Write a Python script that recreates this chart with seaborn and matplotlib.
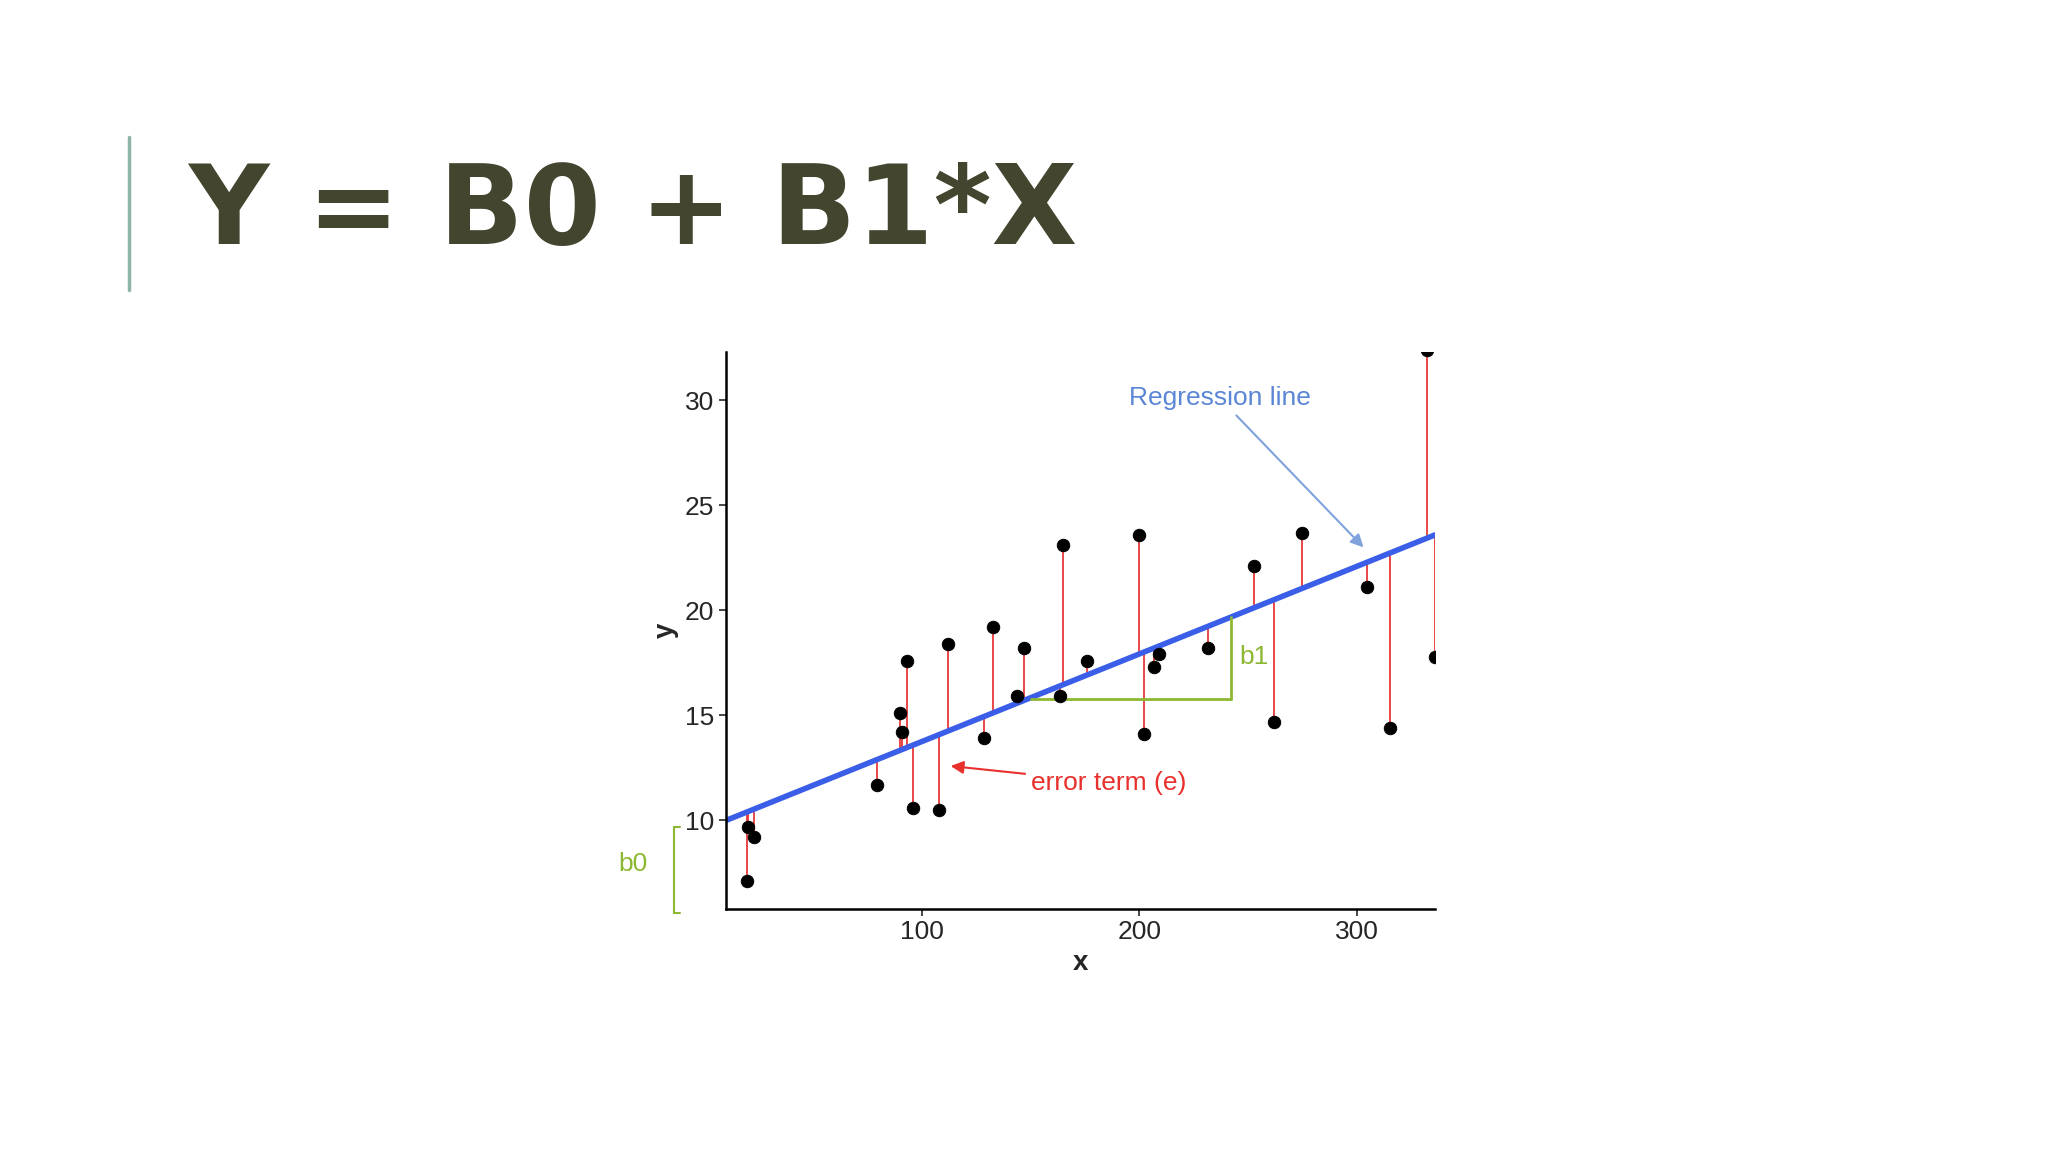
import numpy as np
import pandas as pd
import matplotlib.pyplot as plt
import seaborn as sns

# data
x_vals = [19.6, 20.2, 22.7, 79.5, 89.8, 91.0, 93.4, 95.8, 107.9, 112.0, 128.4, 132.6,
          144.0, 147.0, 163.4, 165.0, 176.0, 199.7, 202.0, 207.0, 209.0, 231.7, 252.8,
          262.0, 275.0, 304.6, 315.5, 332.4, 336.0]
y_vals = [7.1, 9.7, 9.2, 11.7, 15.1, 14.2, 17.6, 10.6, 10.5, 18.4, 13.9, 19.2,
          15.9, 18.2, 15.9, 23.1, 17.6, 23.6, 14.1, 17.3, 17.9, 18.2, 22.1,
          14.7, 23.7, 21.1, 14.4, 32.4, 17.8]
b0 = 9.58
b1 = 0.0417

df = pd.DataFrame({'x': x_vals, 'y': y_vals})
df['fit'] = b0 + b1 * df['x']

sns.set_style('ticks')
plt.rcParams['font.family'] = ['Liberation Sans', 'DejaVu Sans']

fig = plt.figure(figsize=(20.48, 11.52), dpi=100)
ax = fig.add_axes([0.3545, 0.2113, 0.3462, 0.4832])

# residuals
ax.vlines(df['x'], df['y'], df['fit'], color='#e8383a', lw=1.3, zorder=1)

line_x = np.array([10, 336])
sns.lineplot(x=line_x, y=b0 + b1 * line_x, ax=ax, color='#3a5ee8', lw=4, zorder=2)
sns.scatterplot(data=df, x='x', y='y', ax=ax, color='black', s=80, edgecolor='black', zorder=3)

# b1 triangle
green = '#8db832'
xa, xb = 150, 242
ax.plot([xa, xb], [15.8, 15.8], color=green, lw=2)
ax.plot([xb, xb], [15.8, b0 + b1 * xb], color=green, lw=2)
ax.text(xb + 4, 17.8, 'b1', color=green, fontsize=19, va='center')

# b0 bracket outside the axes
ax.plot([-14, -14], [5.6, 9.7], color=green, lw=1.5, clip_on=False)
ax.plot([-14, -11], [9.7, 9.7], color=green, lw=1.5, clip_on=False)
ax.plot([-14, -11], [5.6, 5.6], color=green, lw=1.5, clip_on=False)
ax.text(-26, 7.9, 'b0', color=green, fontsize=19, ha='right', va='center')

ax.annotate('Regression line', xy=(304, 22.9), xytext=(237, 30.1),
            color='#5b86d6', fontsize=19, ha='center', va='center',
            arrowprops=dict(arrowstyle='-|>', color='#7fa2dc', lw=1.5))
ax.annotate('error term (e)', xy=(112, 12.6), xytext=(186, 11.8),
            color='#e8302c', fontsize=19, ha='center', va='center',
            arrowprops=dict(arrowstyle='-|>', color='#e8302c', lw=1.5))

ax.set_xlim(10, 336)
ax.set_ylim(5.8, 32.3)
ax.set_xticks([100, 200, 300])
ax.set_yticks([10, 15, 20, 25, 30])
ax.tick_params(labelsize=19, length=5, width=1.2)
ax.set_xlabel('x', fontsize=20, fontweight='bold')
ax.set_ylabel('y', fontsize=20, fontweight='bold')
for s in ['left', 'bottom']:
    ax.spines[s].set_linewidth(1.8)
    ax.spines[s].set_color('black')
sns.despine(ax=ax)

# slide title
fig.text(0.0917, 0.815, 'Y = B0 + B1*X', fontsize=80, fontweight='bold', color='#43452f',
         va='center', ha='left', family=['Liberation Sans Narrow', 'DejaVu Sans'])
fig.add_artist(plt.Line2D([0.0628, 0.0628], [0.748, 0.881], color='#8fb5a8', lw=2.5))

fig.savefig('out.png', dpi=100)
